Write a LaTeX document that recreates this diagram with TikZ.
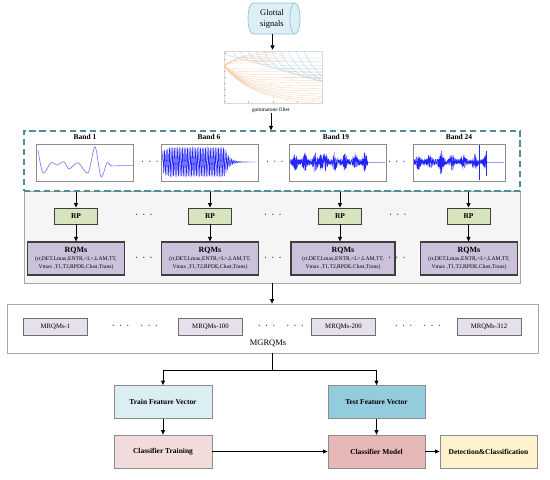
\documentclass[tikz,border=0pt]{standalone}
\usepackage{fontspec}
\setmainfont{Liberation Serif}
\usetikzlibrary{arrows.meta,calc}
\definecolor{cylfill}{HTML}{DDEEF6}
\definecolor{cylline}{HTML}{8DC3D6}
\definecolor{dashcol}{HTML}{4E8E95}
\definecolor{bandline}{HTML}{8C8C8C}
\definecolor{gboxfill}{HTML}{F5F5F5}
\definecolor{gboxline}{HTML}{A6A6A6}
\definecolor{rpfill}{HTML}{D7E4BD}
\definecolor{darkline}{HTML}{3F3F3F}
\definecolor{rqfill}{HTML}{CCC1DA}
\definecolor{mrfill}{HTML}{E5E0EC}
\definecolor{mrline}{HTML}{6E6E6E}
\definecolor{trainfill}{HTML}{DBEEF4}
\definecolor{testfill}{HTML}{93CDDD}
\definecolor{ctfill}{HTML}{F2DCDB}
\definecolor{cmfill}{HTML}{E6B9B8}
\definecolor{detfill}{HTML}{FFF2CC}
\definecolor{boxline}{HTML}{8C8C8C}
\definecolor{wavecol}{HTML}{2424FF}
\definecolor{wavelight}{HTML}{7373FF}
\definecolor{gamA}{HTML}{F6CBA8}
\definecolor{gamB}{HTML}{AACFEA}
\tikzset{
  arr/.style={-{Triangle[length=4.5bp,width=4bp]}, line width=0.8bp, black},
  conn/.style={line width=0.8bp, black},
  bandbox/.style={draw=bandline, fill=white, line width=0.6bp, minimum width=97bp, minimum height=37bp, inner sep=0pt},
  bandlabel/.style={inner sep=0pt, font=\fontsize{7.5}{9}\selectfont\bfseries},
  rpbox/.style={draw=darkline, fill=rpfill, line width=0.9bp, minimum width=43bp, minimum height=16bp, inner sep=0pt, font=\fontsize{7.5}{9}\selectfont\bfseries},
  rqbox/.style={draw=darkline, fill=rqfill, line width=1.2bp, minimum width=97bp, minimum height=33bp, inner sep=0pt, align=center, font=\fontsize{5.6}{8.2}\selectfont},
  mrbox/.style={draw=mrline, fill=mrfill, line width=0.8bp, minimum width=64bp, minimum height=17bp, inner sep=0pt, font=\fontsize{6.8}{8}\selectfont},
  flowbox/.style={draw=boxline, line width=0.8bp, minimum width=98bp, minimum height=33bp, inner sep=0pt, font=\fontsize{7.5}{9}\selectfont\bfseries},
  dotsnode/.style={inner sep=0pt, font=\fontsize{11}{12}\selectfont},
  gamcurveA/.style={gamA, line width=0.3bp},
  gamcurveB/.style={gamB, line width=0.3bp},
}
\pgfmathsetseed{11}
\newcommand\rqmtext{{\fontsize{8}{8.2}\selectfont\bfseries RQMs}\\(rr,DET,Lmax,ENTR,<L>,LAM,TT,\\Vmax ,T1,T2,RPDE,Clust,Trans)}
\newcommand\threedots{$\cdot\,\cdot\,\cdot$}
\begin{document}
\begin{tikzpicture}[x=1bp,y=-1bp]
\useasboundingbox (0,0) rectangle (550,480);
% ---------- cylinder ----------
\fill[cylfill] (253,3) rectangle (295,34);
\fill[cylfill] (253,18.5) ellipse[x radius=5, y radius=15.5];
\draw[cylline, line width=0.7bp] (295,3) -- (253,3) arc[start angle=270, end angle=90, x radius=5, y radius=15.5] -- (295,34);
\filldraw[fill=cylfill, draw=cylline, line width=0.7bp] (295,18.5) ellipse[x radius=5, y radius=15.5];
\node[inner sep=0pt, minimum width=52bp, minimum height=31bp, align=center, font=\fontsize{8.5}{11}\selectfont] (cyl) at (272,18.5) {Glottal\\signals};
% ---------- gammatone chart ----------
\node[inner sep=0pt, minimum width=101bp, minimum height=57bp] (gam) at (272.5,78.5) {};
\draw[gray!30, line width=0.3bp] (224,51) rectangle (322,103);
\foreach \k in {0,...,8}{\draw[gray!50, line width=0.3bp] (224,{53+\k*6}) -- (226,{53+\k*6});}
\foreach \k in {0,...,4}{\draw[gray!50, line width=0.3bp] ({224+\k*24.5},103) -- ({224+\k*24.5},101);}
\begin{scope}
\clip (224,51) rectangle (322,103);
\foreach \i in {0,...,13}{
  \draw[gamcurveA] plot[domain=0:98, samples=45] ({224+\x},{66+(3+\i*2.8)*(1-exp(-\x/(4+\i*2.2)))});
}
\foreach \i in {0,...,10}{
  \pgfmathsetmacro\dm{98-\i*8}
  \draw[gamcurveB] plot[domain=0:\dm, samples=40] ({224+\i*8+\x},{51+(7+\i*3.6)*(1-exp(-\x/(5+\i*1.5)))});
}
\foreach \i in {0,...,5}{
  \draw[gamcurveA] plot[domain=0:60, samples=30] ({224+\x},{66-(3+\i*2.4)*(1-exp(-\x/(3+\i*3)))});
}
\end{scope}
\node[inner sep=0.5bp, font=\fontsize{5.5}{6}\selectfont] (gl) at (271,110) {gammatone filter};
% ---------- gray box and dashed band box ----------
\node[draw=gboxline, fill=gboxfill, line width=0.8bp, minimum width=496bp, minimum height=92bp, inner sep=0pt] (gbox) at (272,237) {};
\node[draw=dashcol, fill=white, dash pattern=on 6.5bp off 3.5bp, line width=1.3bp, minimum width=496bp, minimum height=60bp, inner sep=0pt] (dbox) at (272,161) {};
% bands
\node[bandbox] (b1) at (85,162.5) {};
\node[bandbox] (b6) at (210,162.5) {};
\node[bandbox] (b19) at (337.5,162.5) {};
\node[bandbox, minimum width=92bp] (b24) at (459,162.5) {};
\node[bandlabel] (l1) at (85,137) {Band 1};
\node[bandlabel] (l6) at (209,137) {Band 6};
\node[bandlabel] (l19) at (336,137) {Band 19};
\node[bandlabel] (l24) at (459,137) {Band 24};
\node[dotsnode] (d1) at (150,162) {\threedots};
\node[dotsnode] (d2) at (275,162) {\threedots};
\node[dotsnode] (d3) at (397,162) {\threedots};
% band 1 waveform
\draw[wavelight, line width=0.6bp] plot[smooth, tension=0.5] coordinates {(38,150) (43,173) (51,162.7) (57,165) (64,161.7) (69,169) (78,162.7) (88,173) (95,146.7) (101,177) (107,162.7) (111,165.7) (120,165.7) (133,165.7)};
% band 6 waveform
\draw[wavecol, line width=0.4bp] plot[domain=0:94, samples=601] ({162.5+\x},{162 - 14.5*min(1,0.75+\x/30)*exp(-max(\x-62,0)/4.5)*sin(2*mod(\x*110,180))});
% band 19 waveform
\draw[wavelight!70, line width=0.6bp] (368,162) -- (385,162);
\draw[wavecol, line width=0.3bp] plot[domain=0:78, samples=700] ({290+\x},{162 - (3+7*abs(sin(\x*18))^4 + 6/(1+((\x-31)/1.5)^2))*rand});
% band 24 waveform
\draw[wavelight!70, line width=0.6bp] (486,162) -- (504,162);
\draw[wavecol, line width=0.3bp] plot[domain=0:73, samples=650] ({414+\x},{162 - (2.5+6*abs(sin(\x*16+20))^4 + 5/(1+((\x-27)/1.5)^2))*rand});
\draw[wavecol, line width=0.6bp] (479,145) -- (479,180);
\draw[wavecol, line width=0.5bp] (486.5,151) -- (486.5,176);
% ---------- RP and RQMs ----------
\node[rpbox] (rp1) at (76,216) {RP};
\node[rpbox] (rp2) at (210,216) {RP};
\node[rpbox] (rp3) at (340,216) {RP};
\node[rpbox] (rp4) at (468.5,216) {RP};
\node[rqbox] (rq1) at (76,258.5) {\rqmtext};
\node[rqbox] (rq2) at (210,258.5) {\rqmtext};
\node[rqbox, minimum width=104bp] (rq3) at (343,258.5) {\rqmtext};
\node[rqbox] (rq4) at (469,258.5) {\rqmtext};
\node[dotsnode] (e1) at (144,215) {\threedots};
\node[dotsnode] (e2) at (273,215) {\threedots};
\node[dotsnode] (e3) at (398,215) {\threedots};
\node[dotsnode] (f1) at (144,258) {\threedots};
\node[dotsnode] (f2) at (273,258) {\threedots};
\node[dotsnode] (f3) at (397,258) {\threedots};
\foreach \n in {1,2,3,4}{
  \draw[arr] (rp\n |- dbox.south) -- (rp\n.north);
  \draw[arr] (rp\n.south) -- (rp\n.south |- rq\n.north);
}
% ---------- MGRQMs ----------
\node[draw=gboxline, fill=white, line width=0.8bp, minimum width=531bp, minimum height=49bp, inner sep=0pt] (mg) at (272.5,328.5) {};
\node[mrbox] (m1) at (55.5,326.5) {MRQMs-1};
\node[mrbox] (m100) at (210.5,326.5) {MRQMs-100};
\node[mrbox] (m200) at (343.5,326.5) {MRQMs-200};
\node[mrbox] (m312) at (489,326.5) {MRQMs-312};
\node[dotsnode] (g1) at (135,326.5) {\threedots\quad\threedots};
\node[dotsnode] (g2) at (281,326.5) {\threedots\quad\threedots};
\node[dotsnode] (g3) at (418,326.5) {\threedots\quad\threedots};
\node[inner sep=0pt, font=\fontsize{8.5}{10}\selectfont] (mgl) at (268,343) {MGRQMs};
% arrows between stages
\draw[arr] (gam.north |- cyl.south) -- (gam.north);
\draw[arr] (gl.south) -- (gl.south |- dbox.north);
\draw[arr] (gbox.south) -- (gbox.south |- mg.north);
% ---------- classifier part ----------
\node[flowbox, fill=trainfill] (train) at (163,402) {Train Feature Vector};
\node[flowbox, fill=testfill, minimum width=97bp] (test) at (376.5,402) {Test Feature Vector};
\node[flowbox, fill=ctfill] (ct) at (163,451.5) {Classifier Training};
\node[flowbox, fill=cmfill, minimum width=97bp] (cm) at (376.5,451.5) {Classifier Model};
\node[flowbox, fill=detfill, minimum width=97bp] (det) at (488.5,451.5) {Detection\&Classification};
\coordinate (split) at (272,370);
\draw[conn] (split |- mg.south) -- (split);
\draw[arr] (split) -| (train.north);
\draw[arr] (split) -| (test.north);
\draw[arr] (train.south) -- (ct.north);
\draw[arr] (test.south) -- (cm.north);
\draw[arr] (ct.east) -- (cm.west);
\draw[arr] (cm.east) -- (det.west);
\end{tikzpicture}
\end{document}
